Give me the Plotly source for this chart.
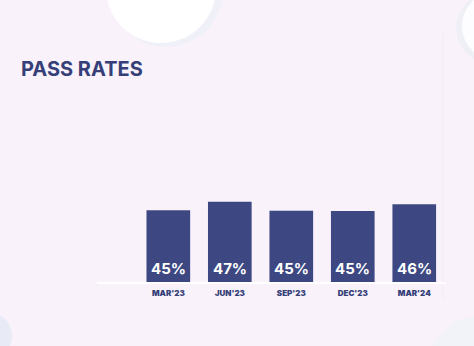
import plotly.graph_objects as go

categories = ["MAR'23", "JUN'23", "SEP'23", "DEC'23", "MAR'24"]
pass_rates = [45.1, 47.0, 45.0, 44.9, 46.4]
title_text = "PASS RATES"

BG = "#f9f2fb"
BAR = "#3d4882"
NAVY = "#363f78"
FONT = "Inter"

W, H = 474, 346
ML, MR, MT, MB = 97, 29, 100, 64
PW, PH = W - ML - MR, H - MT - MB
Y_MIN = 29.15
Y_MAX = Y_MIN + PH / 4.5


def px_x(p):
    return (p - ML) / PW


def px_y(p):
    return (H - MB - p) / PH


fig = go.Figure()
fig.add_trace(go.Bar(
    x=categories,
    y=pass_rates,
    width=0.71,
    marker=dict(color=BAR, line=dict(width=0)),
    hoverinfo="skip",
))

annotations = [dict(
    text=f"<b>{title_text}</b>", xref="paper", yref="paper",
    x=px_x(19), y=px_y(69), xanchor="left", yanchor="middle",
    showarrow=False,
    font=dict(family=FONT, size=20, color=NAVY, weight=900),
)]
for c, v in zip(categories, pass_rates):
    annotations.append(dict(
        text=f"<b>{v:.0f}%</b>", x=c, y=Y_MIN, xref="x", yref="y",
        xanchor="center", yanchor="bottom", yshift=2, showarrow=False,
        font=dict(family=FONT, size=15, color="white", weight=900),
    ))

shapes = []


def circle(cx, cy, r, fill):
    shapes.append(dict(
        type="circle", xref="paper", yref="paper", layer="below",
        x0=px_x(cx - r), x1=px_x(cx + r), y0=px_y(cy + r), y1=px_y(cy - r),
        fillcolor=fill, line=dict(width=0),
    ))


# decorative background circles
circle(166, -10, 57, "#f0f1f8")
circle(161, -12, 55, "#ffffff")
circle(492, 28, 36, "#eef0f6")
circle(496, 26, 34, "#fdfdff")
circle(-12, 336, 24, "#e8ebf5")
circle(482, 372, 56, "#f2f2f9")
# faint card edge
shapes.append(dict(type="line", xref="paper", yref="paper", layer="below",
                   x0=px_x(443), x1=px_x(443), y0=px_y(35), y1=px_y(300),
                   line=dict(color="rgba(236,230,244,0.6)", width=1)))

fig.update_layout(
    width=W, height=H,
    margin=dict(l=ML, r=MR, t=MT, b=MB, pad=0),
    paper_bgcolor=BG,
    plot_bgcolor="rgba(0,0,0,0)",
    showlegend=False,
    shapes=shapes,
    annotations=annotations,
    xaxis=dict(
        range=[-1.16, 4.50],
        showgrid=False, zeroline=False,
        showline=True, linecolor="#ffffff", linewidth=2,
        ticks="", ticklabelstandoff=2,
        tickfont=dict(family=FONT, size=8, color=NAVY, weight=900),
        fixedrange=True,
    ),
    yaxis=dict(
        range=[Y_MIN, Y_MAX],
        showgrid=False, zeroline=False, showticklabels=False,
        showline=False, fixedrange=True,
    ),
)

fig.write_html("out.html")
